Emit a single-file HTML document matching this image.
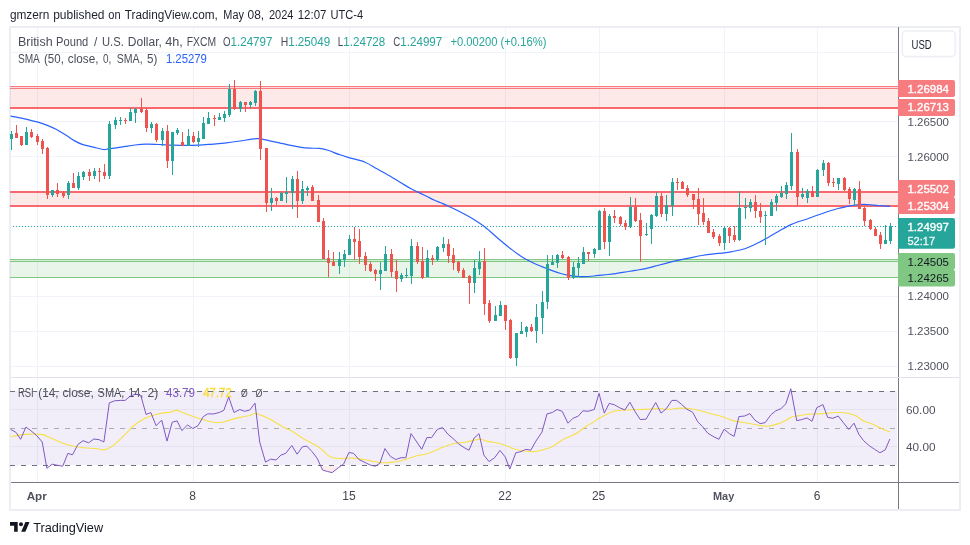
<!DOCTYPE html>
<html><head><meta charset="utf-8"><title>GBPUSD</title>
<style>html,body{margin:0;padding:0;background:#fff}body{width:970px;height:545px;overflow:hidden}svg{display:block}text{font-family:"Liberation Sans",sans-serif}</style>
</head><body>
<svg width="970" height="545" viewBox="0 0 970 545">
<rect x="0" y="0" width="970" height="545" fill="#ffffff"/>
<defs><filter id="noop" filterUnits="userSpaceOnUse" x="0" y="0" width="970" height="545" color-interpolation-filters="sRGB"><feColorMatrix type="matrix" values="1 0 0 0 0 0 1 0 0 0 0 0 1 0 0 0 0 0 1 0"/></filter></defs>
<g filter="url(#noop)">
<rect x="10" y="27" width="950" height="483" fill="none" stroke="#eceef4" stroke-width="2" shape-rendering="crispEdges"/>
<g shape-rendering="crispEdges" fill="#f0f3fa">
<rect x="37" y="28" width="1" height="454"/>
<rect x="193" y="28" width="1" height="454"/>
<rect x="349" y="28" width="1" height="454"/>
<rect x="505" y="28" width="1" height="454"/>
<rect x="599" y="28" width="1" height="454"/>
<rect x="724" y="28" width="1" height="454"/>
<rect x="817" y="28" width="1" height="454"/>
<rect x="11" y="52" width="887" height="1"/>
<rect x="11" y="87" width="887" height="1"/>
<rect x="11" y="121" width="887" height="1"/>
<rect x="11" y="156" width="887" height="1"/>
<rect x="11" y="191" width="887" height="1"/>
<rect x="11" y="226" width="887" height="1"/>
<rect x="11" y="261" width="887" height="1"/>
<rect x="11" y="296" width="887" height="1"/>
<rect x="11" y="331" width="887" height="1"/>
<rect x="11" y="366" width="887" height="1"/>
<rect x="11" y="409" width="887" height="1"/>
<rect x="11" y="446" width="887" height="1"/>
</g>
<g shape-rendering="crispEdges">
<rect x="10" y="89" width="888" height="18" fill="#ef5350" fill-opacity="0.13"/>
<rect x="10" y="87" width="888" height="1" fill="#fbd9dc"/>
<rect x="10" y="86" width="888" height="1" fill="#f77c80"/>
<rect x="10" y="88" width="888" height="1" fill="#f77c80"/>
<rect x="10" y="107" width="888" height="2" fill="#f7696f"/>
<rect x="10" y="193" width="888" height="12" fill="#ef5350" fill-opacity="0.13"/>
<rect x="10" y="191" width="888" height="2" fill="#f7696f"/>
<rect x="10" y="205" width="888" height="2" fill="#f7696f"/>
<rect x="10" y="262" width="888" height="15" fill="#4caf50" fill-opacity="0.126"/>
<rect x="10" y="260" width="888" height="1" fill="#d6edd8"/>
<rect x="10" y="259" width="888" height="1" fill="#81c784"/>
<rect x="10" y="261" width="888" height="1" fill="#81c784"/>
<rect x="10" y="277" width="888" height="1" fill="#81c784"/>
<rect x="11" y="391" width="886" height="74" fill="#7e57c2" fill-opacity="0.1"/>
</g>
<line x1="13" y1="226.5" x2="898" y2="226.5" stroke="#26a69a" stroke-width="1" stroke-dasharray="1 2" shape-rendering="crispEdges"/>
<path d="M10.6,116.1 C12.1,116.4 16.8,117.3 19.8,117.9 C22.9,118.5 25.8,119.2 28.9,119.9 C31.9,120.6 35.0,121.3 38.1,122.2 C41.2,123.1 44.3,124.2 47.3,125.4 C50.3,126.6 53.0,127.7 56.0,129.3 C59.0,130.9 62.2,132.9 65.3,134.8 C68.4,136.7 71.7,139.3 74.6,140.9 C77.5,142.5 79.8,143.6 82.9,144.6 C86.0,145.6 89.7,146.3 93.1,147.1 C96.5,147.9 100.8,149.2 103.3,149.5 C105.8,149.8 105.8,149.2 108.0,148.9 C110.2,148.6 113.4,148.2 116.3,147.8 C119.2,147.4 122.5,146.9 125.6,146.4 C128.7,145.9 131.5,145.4 134.9,145.0 C138.3,144.6 142.2,144.2 146.0,144.1 C149.8,144.0 154.0,144.3 158.0,144.5 C162.0,144.7 165.5,144.9 170.0,145.1 C174.5,145.2 180.3,145.4 185.0,145.4 C189.7,145.4 194.0,145.3 198.3,145.1 C202.6,144.9 206.6,144.6 211.0,144.3 C215.4,144.0 219.7,143.7 224.5,143.1 C229.3,142.5 234.6,141.8 240.0,141.0 C245.4,140.2 253.0,138.9 256.8,138.6 C260.6,138.3 260.4,138.9 262.9,139.3 C265.4,139.8 268.6,140.6 272.0,141.3 C275.4,142.0 279.7,143.0 283.0,143.7 C286.3,144.4 289.0,145.0 292.0,145.6 C295.0,146.2 298.2,147.0 301.2,147.4 C304.2,147.8 306.9,148.0 310.0,148.2 C313.1,148.4 316.5,148.1 319.5,148.4 C322.5,148.8 324.6,149.2 328.0,150.3 C331.4,151.4 336.4,153.6 340.0,154.8 C343.6,156.1 345.7,156.6 349.9,157.8 C354.1,159.0 360.5,160.4 365.0,162.2 C369.5,164.0 372.8,166.5 377.0,168.8 C381.2,171.2 386.5,174.1 390.3,176.3 C394.1,178.5 396.6,180.2 400.0,182.2 C403.4,184.2 407.6,186.9 410.5,188.5 C413.4,190.1 415.1,190.7 417.5,191.9 C419.9,193.1 422.2,194.2 425.0,195.5 C427.8,196.8 431.5,198.8 434.0,200.0 C436.5,201.2 437.6,201.5 440.0,202.5 C442.4,203.5 445.3,204.6 448.3,206.0 C451.3,207.4 454.6,209.1 458.0,210.8 C461.4,212.5 465.2,214.4 468.4,216.2 C471.6,218.0 474.2,219.6 477.0,221.4 C479.8,223.2 482.1,224.7 485.0,227.0 C487.9,229.3 491.4,232.5 494.2,235.0 C497.0,237.5 499.4,239.7 502.0,241.8 C504.6,244.0 507.1,246.0 509.6,247.9 C512.1,249.8 514.5,251.7 517.0,253.5 C519.5,255.3 521.5,256.8 524.5,258.5 C527.5,260.2 531.3,262.0 535.0,263.7 C538.7,265.4 542.6,266.9 546.8,268.5 C551.0,270.1 556.5,272.2 560.0,273.3 C563.5,274.4 565.3,274.7 568.0,275.2 C570.7,275.7 573.3,276.1 576.0,276.4 C578.7,276.6 581.0,276.8 584.0,276.7 C587.0,276.6 590.6,276.3 593.9,276.0 C597.2,275.7 600.7,275.2 604.0,274.9 C607.3,274.5 610.1,274.4 613.7,273.9 C617.3,273.4 621.9,272.6 625.4,272.0 C628.9,271.4 631.6,271.0 635.0,270.4 C638.4,269.8 642.3,269.3 645.6,268.6 C648.9,267.9 651.6,267.1 655.0,266.2 C658.4,265.3 661.6,264.4 665.8,263.3 C670.0,262.2 676.0,260.8 680.0,259.9 C684.0,259.0 686.4,258.5 690.0,257.8 C693.6,257.1 698.1,256.1 701.8,255.5 C705.5,254.9 708.3,254.5 712.0,254.1 C715.7,253.7 720.7,253.2 724.0,252.8 C727.3,252.4 729.3,252.1 732.0,251.6 C734.7,251.1 737.3,250.7 740.0,250.0 C742.7,249.3 744.9,248.8 748.0,247.5 C751.1,246.2 755.1,244.4 758.8,242.5 C762.5,240.6 766.5,238.3 770.0,236.3 C773.5,234.3 776.7,232.4 780.0,230.5 C783.3,228.6 786.8,226.5 789.8,225.1 C792.8,223.7 795.2,222.8 798.0,221.8 C800.8,220.8 803.2,220.3 806.5,219.2 C809.8,218.1 814.0,216.4 818.0,215.0 C822.0,213.6 827.1,211.9 830.4,210.8 C833.7,209.7 835.2,209.2 838.0,208.5 C840.8,207.8 844.2,207.1 847.0,206.5 C849.8,205.9 852.2,205.3 855.0,205.0 C857.8,204.7 861.0,204.4 863.7,204.4 C866.4,204.4 868.6,204.6 871.0,204.8 C873.4,205.0 874.8,205.3 878.0,205.6 C881.2,205.8 888.0,206.2 890.0,206.3" fill="none" stroke="#2962ff" stroke-width="1.2" stroke-linejoin="round"/>
<g shape-rendering="crispEdges">
<rect x="11" y="131" width="1" height="19" fill="#26a69a"/><rect x="10" y="134" width="3" height="5" fill="#26a69a"/>
<rect x="16" y="125" width="1" height="13" fill="#ef5350"/><rect x="15" y="133" width="3" height="5" fill="#ef5350"/>
<rect x="21" y="136" width="1" height="10" fill="#ef5350"/><rect x="20" y="136" width="3" height="9" fill="#ef5350"/>
<rect x="26" y="127" width="1" height="18" fill="#26a69a"/><rect x="25" y="132" width="3" height="13" fill="#26a69a"/>
<rect x="31" y="129" width="1" height="9" fill="#ef5350"/><rect x="30" y="132" width="3" height="5" fill="#ef5350"/>
<rect x="37" y="134" width="1" height="11" fill="#ef5350"/><rect x="36" y="136" width="3" height="6" fill="#ef5350"/>
<rect x="42" y="139" width="1" height="15" fill="#ef5350"/><rect x="41" y="141" width="3" height="8" fill="#ef5350"/>
<rect x="47" y="147" width="1" height="52" fill="#ef5350"/><rect x="46" y="148" width="3" height="47" fill="#ef5350"/>
<rect x="52" y="190" width="1" height="7" fill="#26a69a"/><rect x="51" y="190" width="3" height="5" fill="#26a69a"/>
<rect x="57" y="183" width="1" height="14" fill="#ef5350"/><rect x="56" y="190" width="3" height="4" fill="#ef5350"/>
<rect x="63" y="191" width="1" height="7" fill="#ef5350"/><rect x="62" y="193" width="3" height="3" fill="#ef5350"/>
<rect x="68" y="181" width="1" height="18" fill="#26a69a"/><rect x="67" y="183" width="3" height="12" fill="#26a69a"/>
<rect x="73" y="173" width="1" height="15" fill="#ef5350"/><rect x="72" y="183" width="3" height="5" fill="#ef5350"/>
<rect x="78" y="172" width="1" height="18" fill="#26a69a"/><rect x="77" y="176" width="3" height="12" fill="#26a69a"/>
<rect x="83" y="171" width="1" height="9" fill="#26a69a"/><rect x="82" y="172" width="3" height="5" fill="#26a69a"/>
<rect x="89" y="169" width="1" height="12" fill="#ef5350"/><rect x="88" y="172" width="3" height="4" fill="#ef5350"/>
<rect x="94" y="168" width="1" height="11" fill="#26a69a"/><rect x="93" y="171" width="3" height="5" fill="#26a69a"/>
<rect x="99" y="168" width="1" height="14" fill="#ef5350"/><rect x="98" y="171" width="3" height="1" fill="#ef5350"/>
<rect x="104" y="164" width="1" height="15" fill="#ef5350"/><rect x="103" y="172" width="3" height="4" fill="#ef5350"/>
<rect x="109" y="121" width="1" height="58" fill="#26a69a"/><rect x="108" y="124" width="3" height="52" fill="#26a69a"/>
<rect x="115" y="117" width="1" height="12" fill="#26a69a"/><rect x="114" y="120" width="3" height="5" fill="#26a69a"/>
<rect x="120" y="117" width="1" height="8" fill="#26a69a"/><rect x="119" y="120" width="3" height="1" fill="#26a69a"/>
<rect x="125" y="118" width="1" height="6" fill="#ef5350"/><rect x="124" y="120" width="3" height="1" fill="#ef5350"/>
<rect x="130" y="108" width="1" height="13" fill="#26a69a"/><rect x="129" y="112" width="3" height="9" fill="#26a69a"/>
<rect x="135" y="108" width="1" height="15" fill="#26a69a"/><rect x="134" y="109" width="3" height="4" fill="#26a69a"/>
<rect x="141" y="98" width="1" height="15" fill="#ef5350"/><rect x="140" y="109" width="3" height="3" fill="#ef5350"/>
<rect x="146" y="108" width="1" height="24" fill="#ef5350"/><rect x="145" y="110" width="3" height="18" fill="#ef5350"/>
<rect x="151" y="122" width="1" height="11" fill="#26a69a"/><rect x="150" y="124" width="3" height="4" fill="#26a69a"/>
<rect x="156" y="123" width="1" height="19" fill="#ef5350"/><rect x="155" y="124" width="3" height="16" fill="#ef5350"/>
<rect x="162" y="128" width="1" height="18" fill="#26a69a"/><rect x="161" y="131" width="3" height="9" fill="#26a69a"/>
<rect x="167" y="125" width="1" height="43" fill="#ef5350"/><rect x="166" y="131" width="3" height="30" fill="#ef5350"/>
<rect x="172" y="132" width="1" height="43" fill="#26a69a"/><rect x="171" y="132" width="3" height="29" fill="#26a69a"/>
<rect x="177" y="128" width="1" height="7" fill="#26a69a"/><rect x="176" y="130" width="3" height="3" fill="#26a69a"/>
<rect x="182" y="132" width="1" height="14" fill="#ef5350"/><rect x="181" y="142" width="3" height="4" fill="#ef5350"/>
<rect x="188" y="129" width="1" height="17" fill="#26a69a"/><rect x="187" y="136" width="3" height="10" fill="#26a69a"/>
<rect x="193" y="132" width="1" height="11" fill="#ef5350"/><rect x="192" y="136" width="3" height="6" fill="#ef5350"/>
<rect x="198" y="131" width="1" height="16" fill="#26a69a"/><rect x="197" y="138" width="3" height="4" fill="#26a69a"/>
<rect x="203" y="117" width="1" height="22" fill="#26a69a"/><rect x="202" y="123" width="3" height="16" fill="#26a69a"/>
<rect x="208" y="112" width="1" height="12" fill="#26a69a"/><rect x="207" y="118" width="3" height="6" fill="#26a69a"/>
<rect x="214" y="115" width="1" height="11" fill="#ef5350"/><rect x="213" y="118" width="3" height="1" fill="#ef5350"/>
<rect x="219" y="113" width="1" height="7" fill="#26a69a"/><rect x="218" y="117" width="3" height="3" fill="#26a69a"/>
<rect x="224" y="111" width="1" height="11" fill="#26a69a"/><rect x="223" y="114" width="3" height="4" fill="#26a69a"/>
<rect x="229" y="84" width="1" height="33" fill="#26a69a"/><rect x="228" y="89" width="3" height="26" fill="#26a69a"/>
<rect x="234" y="80" width="1" height="30" fill="#ef5350"/><rect x="233" y="89" width="3" height="20" fill="#ef5350"/>
<rect x="240" y="101" width="1" height="11" fill="#26a69a"/><rect x="239" y="102" width="3" height="7" fill="#26a69a"/>
<rect x="245" y="102" width="1" height="10" fill="#ef5350"/><rect x="244" y="102" width="3" height="3" fill="#ef5350"/>
<rect x="250" y="101" width="1" height="7" fill="#26a69a"/><rect x="249" y="102" width="3" height="3" fill="#26a69a"/>
<rect x="255" y="90" width="1" height="16" fill="#26a69a"/><rect x="254" y="91" width="3" height="12" fill="#26a69a"/>
<rect x="260" y="81" width="1" height="79" fill="#ef5350"/><rect x="259" y="91" width="3" height="58" fill="#ef5350"/>
<rect x="266" y="148" width="1" height="64" fill="#ef5350"/><rect x="265" y="148" width="3" height="55" fill="#ef5350"/>
<rect x="271" y="188" width="1" height="23" fill="#26a69a"/><rect x="270" y="198" width="3" height="5" fill="#26a69a"/>
<rect x="276" y="197" width="1" height="8" fill="#ef5350"/><rect x="275" y="198" width="3" height="3" fill="#ef5350"/>
<rect x="281" y="192" width="1" height="9" fill="#26a69a"/><rect x="280" y="193" width="3" height="8" fill="#26a69a"/>
<rect x="286" y="177" width="1" height="26" fill="#26a69a"/><rect x="285" y="192" width="3" height="2" fill="#26a69a"/>
<rect x="292" y="176" width="1" height="33" fill="#26a69a"/><rect x="291" y="179" width="3" height="14" fill="#26a69a"/>
<rect x="297" y="171" width="1" height="47" fill="#ef5350"/><rect x="296" y="179" width="3" height="22" fill="#ef5350"/>
<rect x="302" y="181" width="1" height="23" fill="#26a69a"/><rect x="301" y="189" width="3" height="12" fill="#26a69a"/>
<rect x="307" y="186" width="1" height="10" fill="#26a69a"/><rect x="306" y="188" width="3" height="2" fill="#26a69a"/>
<rect x="312" y="185" width="1" height="16" fill="#ef5350"/><rect x="311" y="187" width="3" height="14" fill="#ef5350"/>
<rect x="318" y="195" width="1" height="27" fill="#ef5350"/><rect x="317" y="200" width="3" height="22" fill="#ef5350"/>
<rect x="323" y="218" width="1" height="41" fill="#ef5350"/><rect x="322" y="221" width="3" height="38" fill="#ef5350"/>
<rect x="328" y="250" width="1" height="27" fill="#ef5350"/><rect x="327" y="258" width="3" height="5" fill="#ef5350"/>
<rect x="333" y="252" width="1" height="14" fill="#ef5350"/><rect x="332" y="262" width="3" height="4" fill="#ef5350"/>
<rect x="339" y="252" width="1" height="22" fill="#26a69a"/><rect x="338" y="259" width="3" height="7" fill="#26a69a"/>
<rect x="344" y="250" width="1" height="17" fill="#26a69a"/><rect x="343" y="254" width="3" height="6" fill="#26a69a"/>
<rect x="349" y="235" width="1" height="20" fill="#26a69a"/><rect x="348" y="239" width="3" height="16" fill="#26a69a"/>
<rect x="354" y="227" width="1" height="33" fill="#ef5350"/><rect x="353" y="239" width="3" height="3" fill="#ef5350"/>
<rect x="359" y="229" width="1" height="35" fill="#ef5350"/><rect x="358" y="241" width="3" height="16" fill="#ef5350"/>
<rect x="365" y="252" width="1" height="19" fill="#ef5350"/><rect x="364" y="256" width="3" height="9" fill="#ef5350"/>
<rect x="370" y="262" width="1" height="10" fill="#ef5350"/><rect x="369" y="264" width="3" height="7" fill="#ef5350"/>
<rect x="375" y="269" width="1" height="12" fill="#ef5350"/><rect x="374" y="270" width="3" height="4" fill="#ef5350"/>
<rect x="380" y="262" width="1" height="28" fill="#26a69a"/><rect x="379" y="270" width="3" height="4" fill="#26a69a"/>
<rect x="385" y="246" width="1" height="25" fill="#26a69a"/><rect x="384" y="254" width="3" height="17" fill="#26a69a"/>
<rect x="391" y="249" width="1" height="28" fill="#ef5350"/><rect x="390" y="254" width="3" height="18" fill="#ef5350"/>
<rect x="396" y="260" width="1" height="32" fill="#ef5350"/><rect x="395" y="271" width="3" height="8" fill="#ef5350"/>
<rect x="401" y="273" width="1" height="9" fill="#26a69a"/><rect x="400" y="275" width="3" height="4" fill="#26a69a"/>
<rect x="406" y="268" width="1" height="10" fill="#26a69a"/><rect x="405" y="275" width="3" height="1" fill="#26a69a"/>
<rect x="411" y="239" width="1" height="45" fill="#26a69a"/><rect x="410" y="246" width="3" height="30" fill="#26a69a"/>
<rect x="417" y="242" width="1" height="22" fill="#ef5350"/><rect x="416" y="246" width="3" height="16" fill="#ef5350"/>
<rect x="422" y="247" width="1" height="32" fill="#ef5350"/><rect x="421" y="261" width="3" height="17" fill="#ef5350"/>
<rect x="427" y="250" width="1" height="27" fill="#26a69a"/><rect x="426" y="258" width="3" height="19" fill="#26a69a"/>
<rect x="432" y="255" width="1" height="10" fill="#ef5350"/><rect x="431" y="258" width="3" height="2" fill="#ef5350"/>
<rect x="437" y="246" width="1" height="15" fill="#26a69a"/><rect x="436" y="247" width="3" height="13" fill="#26a69a"/>
<rect x="443" y="237" width="1" height="15" fill="#26a69a"/><rect x="442" y="244" width="3" height="4" fill="#26a69a"/>
<rect x="448" y="239" width="1" height="24" fill="#ef5350"/><rect x="447" y="244" width="3" height="12" fill="#ef5350"/>
<rect x="453" y="248" width="1" height="22" fill="#ef5350"/><rect x="452" y="255" width="3" height="8" fill="#ef5350"/>
<rect x="458" y="261" width="1" height="12" fill="#ef5350"/><rect x="457" y="262" width="3" height="9" fill="#ef5350"/>
<rect x="463" y="268" width="1" height="10" fill="#ef5350"/><rect x="462" y="270" width="3" height="8" fill="#ef5350"/>
<rect x="469" y="275" width="1" height="29" fill="#ef5350"/><rect x="468" y="276" width="3" height="7" fill="#ef5350"/>
<rect x="474" y="260" width="1" height="33" fill="#26a69a"/><rect x="473" y="268" width="3" height="15" fill="#26a69a"/>
<rect x="479" y="251" width="1" height="24" fill="#26a69a"/><rect x="478" y="262" width="3" height="7" fill="#26a69a"/>
<rect x="484" y="248" width="1" height="67" fill="#ef5350"/><rect x="483" y="261" width="3" height="43" fill="#ef5350"/>
<rect x="489" y="300" width="1" height="23" fill="#ef5350"/><rect x="488" y="303" width="3" height="18" fill="#ef5350"/>
<rect x="495" y="306" width="1" height="15" fill="#26a69a"/><rect x="494" y="315" width="3" height="6" fill="#26a69a"/>
<rect x="500" y="301" width="1" height="15" fill="#26a69a"/><rect x="499" y="305" width="3" height="11" fill="#26a69a"/>
<rect x="505" y="305" width="1" height="25" fill="#ef5350"/><rect x="504" y="305" width="3" height="16" fill="#ef5350"/>
<rect x="510" y="319" width="1" height="40" fill="#ef5350"/><rect x="509" y="320" width="3" height="38" fill="#ef5350"/>
<rect x="516" y="333" width="1" height="33" fill="#26a69a"/><rect x="515" y="333" width="3" height="25" fill="#26a69a"/>
<rect x="521" y="322" width="1" height="12" fill="#26a69a"/><rect x="520" y="331" width="3" height="3" fill="#26a69a"/>
<rect x="526" y="326" width="1" height="11" fill="#26a69a"/><rect x="525" y="327" width="3" height="5" fill="#26a69a"/>
<rect x="531" y="324" width="1" height="8" fill="#ef5350"/><rect x="530" y="327" width="3" height="4" fill="#ef5350"/>
<rect x="536" y="304" width="1" height="39" fill="#26a69a"/><rect x="535" y="317" width="3" height="14" fill="#26a69a"/>
<rect x="542" y="291" width="1" height="43" fill="#26a69a"/><rect x="541" y="302" width="3" height="16" fill="#26a69a"/>
<rect x="547" y="255" width="1" height="54" fill="#26a69a"/><rect x="546" y="264" width="3" height="38" fill="#26a69a"/>
<rect x="552" y="255" width="1" height="10" fill="#26a69a"/><rect x="551" y="262" width="3" height="3" fill="#26a69a"/>
<rect x="557" y="254" width="1" height="14" fill="#26a69a"/><rect x="556" y="255" width="3" height="8" fill="#26a69a"/>
<rect x="562" y="251" width="1" height="8" fill="#ef5350"/><rect x="561" y="255" width="3" height="3" fill="#ef5350"/>
<rect x="568" y="256" width="1" height="24" fill="#ef5350"/><rect x="567" y="257" width="3" height="21" fill="#ef5350"/>
<rect x="573" y="262" width="1" height="17" fill="#26a69a"/><rect x="572" y="267" width="3" height="11" fill="#26a69a"/>
<rect x="578" y="257" width="1" height="20" fill="#26a69a"/><rect x="577" y="263" width="3" height="5" fill="#26a69a"/>
<rect x="583" y="247" width="1" height="17" fill="#26a69a"/><rect x="582" y="252" width="3" height="12" fill="#26a69a"/>
<rect x="588" y="252" width="1" height="9" fill="#ef5350"/><rect x="587" y="252" width="3" height="2" fill="#ef5350"/>
<rect x="594" y="248" width="1" height="10" fill="#26a69a"/><rect x="593" y="249" width="3" height="5" fill="#26a69a"/>
<rect x="599" y="210" width="1" height="40" fill="#26a69a"/><rect x="598" y="211" width="3" height="39" fill="#26a69a"/>
<rect x="604" y="208" width="1" height="41" fill="#ef5350"/><rect x="603" y="211" width="3" height="31" fill="#ef5350"/>
<rect x="609" y="214" width="1" height="42" fill="#26a69a"/><rect x="608" y="216" width="3" height="26" fill="#26a69a"/>
<rect x="614" y="210" width="1" height="13" fill="#ef5350"/><rect x="613" y="216" width="3" height="2" fill="#ef5350"/>
<rect x="620" y="216" width="1" height="10" fill="#ef5350"/><rect x="619" y="217" width="3" height="7" fill="#ef5350"/>
<rect x="625" y="220" width="1" height="10" fill="#ef5350"/><rect x="624" y="223" width="3" height="4" fill="#ef5350"/>
<rect x="630" y="197" width="1" height="31" fill="#26a69a"/><rect x="629" y="207" width="3" height="20" fill="#26a69a"/>
<rect x="635" y="198" width="1" height="24" fill="#ef5350"/><rect x="634" y="207" width="3" height="14" fill="#ef5350"/>
<rect x="640" y="213" width="1" height="49" fill="#ef5350"/><rect x="639" y="220" width="3" height="16" fill="#ef5350"/>
<rect x="646" y="223" width="1" height="13" fill="#26a69a"/><rect x="645" y="234" width="3" height="1" fill="#26a69a"/>
<rect x="651" y="214" width="1" height="30" fill="#26a69a"/><rect x="650" y="215" width="3" height="14" fill="#26a69a"/>
<rect x="656" y="192" width="1" height="25" fill="#26a69a"/><rect x="655" y="196" width="3" height="20" fill="#26a69a"/>
<rect x="661" y="193" width="1" height="24" fill="#ef5350"/><rect x="660" y="196" width="3" height="18" fill="#ef5350"/>
<rect x="666" y="195" width="1" height="26" fill="#26a69a"/><rect x="665" y="205" width="3" height="9" fill="#26a69a"/>
<rect x="672" y="178" width="1" height="38" fill="#26a69a"/><rect x="671" y="182" width="3" height="24" fill="#26a69a"/>
<rect x="677" y="178" width="1" height="12" fill="#ef5350"/><rect x="676" y="182" width="3" height="1" fill="#ef5350"/>
<rect x="682" y="181" width="1" height="8" fill="#ef5350"/><rect x="681" y="182" width="3" height="7" fill="#ef5350"/>
<rect x="687" y="185" width="1" height="12" fill="#ef5350"/><rect x="686" y="188" width="3" height="7" fill="#ef5350"/>
<rect x="693" y="194" width="1" height="15" fill="#ef5350"/><rect x="692" y="194" width="3" height="6" fill="#ef5350"/>
<rect x="698" y="188" width="1" height="37" fill="#ef5350"/><rect x="697" y="199" width="3" height="15" fill="#ef5350"/>
<rect x="703" y="198" width="1" height="27" fill="#ef5350"/><rect x="702" y="213" width="3" height="9" fill="#ef5350"/>
<rect x="708" y="218" width="1" height="15" fill="#ef5350"/><rect x="707" y="221" width="3" height="12" fill="#ef5350"/>
<rect x="713" y="229" width="1" height="10" fill="#ef5350"/><rect x="712" y="232" width="3" height="5" fill="#ef5350"/>
<rect x="719" y="234" width="1" height="12" fill="#ef5350"/><rect x="718" y="236" width="3" height="7" fill="#ef5350"/>
<rect x="724" y="226" width="1" height="24" fill="#26a69a"/><rect x="723" y="228" width="3" height="15" fill="#26a69a"/>
<rect x="729" y="227" width="1" height="16" fill="#ef5350"/><rect x="728" y="228" width="3" height="8" fill="#ef5350"/>
<rect x="734" y="226" width="1" height="16" fill="#ef5350"/><rect x="733" y="235" width="3" height="5" fill="#ef5350"/>
<rect x="739" y="191" width="1" height="50" fill="#26a69a"/><rect x="738" y="208" width="3" height="32" fill="#26a69a"/>
<rect x="745" y="198" width="1" height="21" fill="#26a69a"/><rect x="744" y="207" width="3" height="1" fill="#26a69a"/>
<rect x="750" y="199" width="1" height="13" fill="#26a69a"/><rect x="749" y="202" width="3" height="6" fill="#26a69a"/>
<rect x="755" y="195" width="1" height="23" fill="#ef5350"/><rect x="754" y="202" width="3" height="9" fill="#ef5350"/>
<rect x="760" y="203" width="1" height="20" fill="#ef5350"/><rect x="759" y="211" width="3" height="6" fill="#ef5350"/>
<rect x="765" y="211" width="1" height="34" fill="#26a69a"/><rect x="764" y="215" width="3" height="1" fill="#26a69a"/>
<rect x="771" y="199" width="1" height="17" fill="#26a69a"/><rect x="770" y="202" width="3" height="14" fill="#26a69a"/>
<rect x="776" y="194" width="1" height="17" fill="#26a69a"/><rect x="775" y="196" width="3" height="7" fill="#26a69a"/>
<rect x="781" y="186" width="1" height="12" fill="#26a69a"/><rect x="780" y="193" width="3" height="4" fill="#26a69a"/>
<rect x="786" y="182" width="1" height="17" fill="#26a69a"/><rect x="785" y="185" width="3" height="9" fill="#26a69a"/>
<rect x="791" y="133" width="1" height="57" fill="#26a69a"/><rect x="790" y="152" width="3" height="34" fill="#26a69a"/>
<rect x="797" y="149" width="1" height="57" fill="#ef5350"/><rect x="796" y="152" width="3" height="45" fill="#ef5350"/>
<rect x="802" y="188" width="1" height="11" fill="#26a69a"/><rect x="801" y="194" width="3" height="3" fill="#26a69a"/>
<rect x="807" y="189" width="1" height="14" fill="#26a69a"/><rect x="806" y="191" width="3" height="7" fill="#26a69a"/>
<rect x="812" y="186" width="1" height="11" fill="#ef5350"/><rect x="811" y="191" width="3" height="6" fill="#ef5350"/>
<rect x="817" y="169" width="1" height="28" fill="#26a69a"/><rect x="816" y="170" width="3" height="27" fill="#26a69a"/>
<rect x="823" y="160" width="1" height="16" fill="#26a69a"/><rect x="822" y="163" width="3" height="7" fill="#26a69a"/>
<rect x="828" y="162" width="1" height="24" fill="#ef5350"/><rect x="827" y="163" width="3" height="20" fill="#ef5350"/>
<rect x="833" y="178" width="1" height="9" fill="#ef5350"/><rect x="832" y="182" width="3" height="1" fill="#ef5350"/>
<rect x="838" y="178" width="1" height="12" fill="#26a69a"/><rect x="837" y="178" width="3" height="6" fill="#26a69a"/>
<rect x="844" y="177" width="1" height="14" fill="#ef5350"/><rect x="843" y="178" width="3" height="12" fill="#ef5350"/>
<rect x="849" y="187" width="1" height="17" fill="#ef5350"/><rect x="848" y="189" width="3" height="10" fill="#ef5350"/>
<rect x="854" y="188" width="1" height="18" fill="#26a69a"/><rect x="853" y="189" width="3" height="11" fill="#26a69a"/>
<rect x="859" y="181" width="1" height="28" fill="#ef5350"/><rect x="858" y="189" width="3" height="20" fill="#ef5350"/>
<rect x="864" y="207" width="1" height="19" fill="#ef5350"/><rect x="863" y="208" width="3" height="13" fill="#ef5350"/>
<rect x="870" y="219" width="1" height="11" fill="#ef5350"/><rect x="869" y="220" width="3" height="9" fill="#ef5350"/>
<rect x="875" y="227" width="1" height="9" fill="#ef5350"/><rect x="874" y="229" width="3" height="7" fill="#ef5350"/>
<rect x="880" y="232" width="1" height="17" fill="#ef5350"/><rect x="879" y="235" width="3" height="9" fill="#ef5350"/>
<rect x="885" y="225" width="1" height="19" fill="#26a69a"/><rect x="884" y="240" width="3" height="4" fill="#26a69a"/>
<rect x="890" y="223" width="1" height="21" fill="#26a69a"/><rect x="889" y="226" width="3" height="15" fill="#26a69a"/>
</g>
<text x="18.0" y="397.2" font-size="12" fill="#4a4d59" textLength="15.7" lengthAdjust="spacingAndGlyphs">RSI</text>
<text x="38.3" y="397.2" font-size="12" fill="#4a4d59" textLength="20.1" lengthAdjust="spacingAndGlyphs">(14,</text>
<text x="62.5" y="397.2" font-size="12" fill="#4a4d59" textLength="31.4" lengthAdjust="spacingAndGlyphs">close,</text>
<text x="97.6" y="397.2" font-size="12" fill="#4a4d59" textLength="26.8" lengthAdjust="spacingAndGlyphs">SMA,</text>
<text x="128.2" y="397.2" font-size="12" fill="#4a4d59" textLength="15.2" lengthAdjust="spacingAndGlyphs">14,</text>
<text x="147.6" y="397.2" font-size="12" fill="#4a4d59" textLength="10.6" lengthAdjust="spacingAndGlyphs">2)</text>
<text x="166" y="397.2" font-size="12" fill="#7e57c2" textLength="29" lengthAdjust="spacingAndGlyphs">43.79</text>
<text x="203.3" y="397.2" font-size="12" fill="#fbdc3a" stroke="#fbdc3a" stroke-width="0.35" textLength="28.4" lengthAdjust="spacingAndGlyphs">47.72</text>
<text x="241" y="397.1" font-size="10.5" fill="#4a4d59" textLength="6.7" lengthAdjust="spacingAndGlyphs">&#216;</text>
<text x="255.6" y="397.1" font-size="10.5" fill="#4a4d59" textLength="6.9" lengthAdjust="spacingAndGlyphs">&#216;</text>
<clipPath id="cpLow"><rect x="11" y="466" width="886" height="16"/></clipPath>
<clipPath id="cpHigh"><rect x="11" y="378" width="886" height="13"/></clipPath>
<path d="M10.6,429.4 L15.9,432.3 L20.6,439.3 L25.9,427.1 L30.8,430.6 L36.9,435.8 L42.2,442.0 L46.9,468.3 L52.2,464.2 L57.4,465.3 L62.7,466.2 L67.9,453.4 L72.5,454.8 L77.8,444.6 L83.0,440.7 L88.6,442.8 L93.9,439.0 L99.1,439.7 L103.9,442.0 L109.3,402.9 L114.6,400.8 L120.2,400.4 L125.1,400.4 L130.3,396.1 L135.6,394.1 L140.8,395.5 L146.1,414.5 L150.8,412.5 L156.1,425.7 L161.7,420.1 L167.0,441.1 L172.2,422.2 L177.1,420.9 L181.9,430.6 L187.5,425.0 L192.8,428.5 L198.0,425.7 L203.3,416.6 L207.7,413.9 L213.8,413.9 L219.1,412.5 L223.8,410.4 L228.7,396.9 L234.0,412.5 L239.8,409.5 L244.5,411.3 L249.7,410.1 L255.0,403.1 L259.7,442.0 L265.5,462.1 L270.8,459.1 L276.0,460.0 L280.9,455.1 L285.7,453.4 L291.8,445.5 L297.1,454.2 L302.3,446.9 L306.7,446.0 L312.0,451.6 L317.2,458.3 L322.5,470.0 L327.5,471.5 L332.1,472.6 L338.8,467.4 L343.7,463.9 L348.9,452.5 L353.7,453.4 L358.9,459.5 L365.1,462.5 L370.3,465.1 L375.2,466.2 L379.9,463.3 L384.9,448.6 L390.5,456.5 L395.7,459.5 L401.0,457.7 L405.9,457.7 L411.0,433.6 L416.8,442.0 L421.7,449.3 L426.9,437.6 L431.6,437.6 L437.3,429.4 L442.7,427.6 L447.8,434.1 L453.0,438.5 L458.5,443.7 L464.1,447.6 L469.0,450.2 L474.1,438.1 L479.0,433.7 L483.9,455.1 L489.0,461.6 L494.7,457.7 L500.0,450.4 L505.2,456.9 L509.8,469.1 L515.8,452.8 L521.0,451.6 L525.9,449.3 L530.8,450.2 L535.9,441.1 L542.0,432.0 L547.0,413.9 L552.2,412.5 L557.1,409.5 L562.2,411.3 L568.0,423.2 L572.9,418.3 L578.2,416.2 L582.9,410.8 L588.1,411.3 L594.3,409.5 L599.0,393.4 L604.3,413.1 L609.2,403.4 L614.4,404.8 L619.7,407.8 L624.9,409.9 L629.9,402.2 L634.9,411.3 L640.2,419.5 L646.0,419.2 L650.9,410.8 L655.7,402.5 L661.0,413.1 L666.3,408.7 L671.9,400.4 L676.6,400.4 L681.5,404.3 L686.8,409.2 L692.6,412.2 L697.8,421.8 L702.6,426.7 L707.8,433.2 L713.1,436.4 L718.9,439.3 L724.1,429.2 L729.4,433.7 L734.1,436.4 L738.9,416.6 L744.6,416.0 L749.9,413.6 L754.8,420.1 L760.1,423.6 L765.1,422.7 L770.9,414.8 L775.8,410.8 L780.9,408.7 L785.8,403.9 L790.8,388.7 L796.7,420.6 L801.5,419.7 L807.0,417.9 L812.0,421.3 L816.7,407.8 L822.9,404.6 L827.7,417.4 L832.9,418.3 L838.2,416.0 L843.1,422.3 L848.7,429.4 L854.0,423.2 L858.9,434.4 L863.6,440.7 L869.4,445.8 L874.6,449.3 L879.9,452.8 L885.2,449.9 L889.9,439.0 L889.9,465 L10.6,465 Z" fill="#fdecee" clip-path="url(#cpLow)"/>
<path d="M10.6,429.4 L15.9,432.3 L20.6,439.3 L25.9,427.1 L30.8,430.6 L36.9,435.8 L42.2,442.0 L46.9,468.3 L52.2,464.2 L57.4,465.3 L62.7,466.2 L67.9,453.4 L72.5,454.8 L77.8,444.6 L83.0,440.7 L88.6,442.8 L93.9,439.0 L99.1,439.7 L103.9,442.0 L109.3,402.9 L114.6,400.8 L120.2,400.4 L125.1,400.4 L130.3,396.1 L135.6,394.1 L140.8,395.5 L146.1,414.5 L150.8,412.5 L156.1,425.7 L161.7,420.1 L167.0,441.1 L172.2,422.2 L177.1,420.9 L181.9,430.6 L187.5,425.0 L192.8,428.5 L198.0,425.7 L203.3,416.6 L207.7,413.9 L213.8,413.9 L219.1,412.5 L223.8,410.4 L228.7,396.9 L234.0,412.5 L239.8,409.5 L244.5,411.3 L249.7,410.1 L255.0,403.1 L259.7,442.0 L265.5,462.1 L270.8,459.1 L276.0,460.0 L280.9,455.1 L285.7,453.4 L291.8,445.5 L297.1,454.2 L302.3,446.9 L306.7,446.0 L312.0,451.6 L317.2,458.3 L322.5,470.0 L327.5,471.5 L332.1,472.6 L338.8,467.4 L343.7,463.9 L348.9,452.5 L353.7,453.4 L358.9,459.5 L365.1,462.5 L370.3,465.1 L375.2,466.2 L379.9,463.3 L384.9,448.6 L390.5,456.5 L395.7,459.5 L401.0,457.7 L405.9,457.7 L411.0,433.6 L416.8,442.0 L421.7,449.3 L426.9,437.6 L431.6,437.6 L437.3,429.4 L442.7,427.6 L447.8,434.1 L453.0,438.5 L458.5,443.7 L464.1,447.6 L469.0,450.2 L474.1,438.1 L479.0,433.7 L483.9,455.1 L489.0,461.6 L494.7,457.7 L500.0,450.4 L505.2,456.9 L509.8,469.1 L515.8,452.8 L521.0,451.6 L525.9,449.3 L530.8,450.2 L535.9,441.1 L542.0,432.0 L547.0,413.9 L552.2,412.5 L557.1,409.5 L562.2,411.3 L568.0,423.2 L572.9,418.3 L578.2,416.2 L582.9,410.8 L588.1,411.3 L594.3,409.5 L599.0,393.4 L604.3,413.1 L609.2,403.4 L614.4,404.8 L619.7,407.8 L624.9,409.9 L629.9,402.2 L634.9,411.3 L640.2,419.5 L646.0,419.2 L650.9,410.8 L655.7,402.5 L661.0,413.1 L666.3,408.7 L671.9,400.4 L676.6,400.4 L681.5,404.3 L686.8,409.2 L692.6,412.2 L697.8,421.8 L702.6,426.7 L707.8,433.2 L713.1,436.4 L718.9,439.3 L724.1,429.2 L729.4,433.7 L734.1,436.4 L738.9,416.6 L744.6,416.0 L749.9,413.6 L754.8,420.1 L760.1,423.6 L765.1,422.7 L770.9,414.8 L775.8,410.8 L780.9,408.7 L785.8,403.9 L790.8,388.7 L796.7,420.6 L801.5,419.7 L807.0,417.9 L812.0,421.3 L816.7,407.8 L822.9,404.6 L827.7,417.4 L832.9,418.3 L838.2,416.0 L843.1,422.3 L848.7,429.4 L854.0,423.2 L858.9,434.4 L863.6,440.7 L869.4,445.8 L874.6,449.3 L879.9,452.8 L885.2,449.9 L889.9,439.0 L889.9,392 L10.6,392 Z" fill="#dff2e3" clip-path="url(#cpHigh)"/>
<g shape-rendering="crispEdges">
<line x1="10" y1="391.5" x2="897" y2="391.5" stroke="#6d707b" stroke-width="1" stroke-dasharray="5 6"/>
<line x1="10" y1="428.5" x2="897" y2="428.5" stroke="#a9acb5" stroke-width="1" stroke-dasharray="5 6"/>
<line x1="10" y1="465.5" x2="897" y2="465.5" stroke="#6d707b" stroke-width="1" stroke-dasharray="5 6"/>
</g>
<path d="M10.6,436.7 C13.1,436.3 20.4,434.8 25.5,434.4 C30.6,434.0 36.9,433.7 41.3,434.4 C45.7,435.1 47.7,436.9 51.8,438.5 C55.9,440.1 60.5,442.6 65.8,444.2 C71.1,445.8 78.4,447.1 83.4,447.8 C88.4,448.5 92.2,448.1 95.6,448.5 C98.9,448.9 101.4,449.9 103.5,449.9 C105.6,449.9 106.4,449.2 108.0,448.5 C109.6,447.8 110.9,447.3 113.2,445.5 C115.5,443.7 119.4,440.0 121.9,437.6 C124.4,435.2 126.0,433.4 128.0,431.3 C130.1,429.2 132.0,427.1 134.2,425.3 C136.4,423.5 138.7,421.9 141.0,420.5 C143.3,419.1 145.9,417.8 148.2,416.9 C150.5,415.9 152.7,415.4 155.0,414.8 C157.3,414.2 159.7,413.5 162.2,413.1 C164.7,412.7 167.5,412.6 170.0,412.2 C172.5,411.8 174.1,410.0 177.0,410.4 C179.9,410.8 183.4,413.0 187.5,414.5 C191.6,416.0 197.1,417.9 201.5,419.2 C205.9,420.5 210.3,421.7 213.8,422.2 C217.3,422.7 220.0,422.5 222.6,422.2 C225.2,421.9 226.7,420.9 229.6,420.1 C232.5,419.3 236.9,418.1 240.1,417.4 C243.3,416.7 246.3,416.3 248.9,415.7 C251.5,415.1 252.7,413.2 255.9,413.6 C259.1,414.0 263.4,416.0 268.1,418.3 C272.8,420.6 279.8,425.2 283.9,427.4 C288.0,429.6 289.5,429.6 292.7,431.5 C295.9,433.4 298.8,435.9 303.2,438.5 C307.6,441.1 314.9,444.4 319.0,447.2 C323.1,450.0 325.4,453.4 327.7,455.1 C330.0,456.9 330.9,457.1 333.0,457.7 C335.1,458.3 337.2,458.5 340.5,458.6 C343.8,458.7 348.1,457.8 352.8,458.1 C357.5,458.4 363.9,459.6 368.6,460.4 C373.3,461.1 376.7,462.3 380.8,462.6 C384.9,462.9 389.0,462.6 393.1,462.1 C397.2,461.6 401.6,460.5 405.4,459.5 C409.2,458.5 412.1,457.0 415.9,456.0 C419.7,455.0 423.7,454.8 428.1,453.4 C432.5,452.0 438.1,449.2 442.2,447.6 C446.3,446.0 448.9,444.6 452.7,443.7 C456.5,442.8 460.5,443.0 464.9,442.3 C469.3,441.6 475.2,439.5 479.0,439.3 C482.8,439.1 483.8,440.6 487.7,441.4 C491.6,442.2 498.1,443.0 502.3,444.2 C506.5,445.4 509.3,447.4 512.8,448.5 C516.3,449.6 519.8,450.2 523.3,450.7 C526.8,451.2 530.6,451.7 533.8,451.6 C537.0,451.5 539.5,450.7 542.6,449.9 C545.7,449.1 549.0,448.3 552.2,446.7 C555.4,445.1 558.8,441.9 561.9,440.2 C565.0,438.4 568.0,437.4 570.6,436.2 C573.2,434.9 575.0,434.4 577.6,432.7 C580.2,431.0 583.8,427.9 586.4,426.2 C589.0,424.5 591.3,423.6 593.4,422.3 C595.5,421.0 596.7,419.6 598.7,418.3 C600.8,417.1 603.2,416.0 605.7,414.8 C608.2,413.6 610.7,412.1 613.6,411.3 C616.5,410.5 619.0,410.4 623.2,410.1 C627.4,409.8 634.3,409.7 639.0,409.5 C643.7,409.3 647.6,409.1 651.2,409.0 C654.8,408.9 657.2,408.7 660.5,408.7 C663.8,408.7 667.8,409.3 671.0,409.2 C674.2,409.1 676.0,408.1 679.8,408.1 C683.6,408.1 689.1,408.4 693.8,409.2 C698.5,410.0 703.1,411.5 707.8,412.7 C712.5,413.9 717.5,415.2 721.9,416.6 C726.3,418.0 729.7,419.8 734.1,420.9 C738.5,422.0 744.0,422.5 748.1,423.2 C752.2,423.9 755.5,424.8 758.7,425.3 C761.9,425.8 764.5,426.4 767.4,426.2 C770.3,426.0 773.3,425.3 776.2,424.4 C779.1,423.5 782.3,422.1 784.9,420.9 C787.5,419.6 789.5,417.8 791.9,416.9 C794.2,416.0 796.4,416.1 799.0,415.7 C801.6,415.3 804.5,414.6 807.7,414.3 C810.9,414.0 814.5,414.1 818.0,413.9 C821.5,413.7 825.2,413.4 828.6,413.1 C832.0,412.8 835.3,412.2 838.2,412.2 C841.1,412.2 843.3,412.6 846.1,413.1 C848.9,413.6 851.9,414.0 854.8,415.3 C857.7,416.6 860.7,419.4 863.6,420.9 C866.5,422.4 869.5,422.9 872.4,424.1 C875.3,425.3 878.2,427.0 881.1,428.3 C884.0,429.6 888.4,431.4 889.9,432.0" fill="none" stroke="#f7e04a" stroke-width="1.1" stroke-linejoin="round"/>
<path d="M10.6,429.4 L15.9,432.3 L20.6,439.3 L25.9,427.1 L30.8,430.6 L36.9,435.8 L42.2,442.0 L46.9,468.3 L52.2,464.2 L57.4,465.3 L62.7,466.2 L67.9,453.4 L72.5,454.8 L77.8,444.6 L83.0,440.7 L88.6,442.8 L93.9,439.0 L99.1,439.7 L103.9,442.0 L109.3,402.9 L114.6,400.8 L120.2,400.4 L125.1,400.4 L130.3,396.1 L135.6,394.1 L140.8,395.5 L146.1,414.5 L150.8,412.5 L156.1,425.7 L161.7,420.1 L167.0,441.1 L172.2,422.2 L177.1,420.9 L181.9,430.6 L187.5,425.0 L192.8,428.5 L198.0,425.7 L203.3,416.6 L207.7,413.9 L213.8,413.9 L219.1,412.5 L223.8,410.4 L228.7,396.9 L234.0,412.5 L239.8,409.5 L244.5,411.3 L249.7,410.1 L255.0,403.1 L259.7,442.0 L265.5,462.1 L270.8,459.1 L276.0,460.0 L280.9,455.1 L285.7,453.4 L291.8,445.5 L297.1,454.2 L302.3,446.9 L306.7,446.0 L312.0,451.6 L317.2,458.3 L322.5,470.0 L327.5,471.5 L332.1,472.6 L338.8,467.4 L343.7,463.9 L348.9,452.5 L353.7,453.4 L358.9,459.5 L365.1,462.5 L370.3,465.1 L375.2,466.2 L379.9,463.3 L384.9,448.6 L390.5,456.5 L395.7,459.5 L401.0,457.7 L405.9,457.7 L411.0,433.6 L416.8,442.0 L421.7,449.3 L426.9,437.6 L431.6,437.6 L437.3,429.4 L442.7,427.6 L447.8,434.1 L453.0,438.5 L458.5,443.7 L464.1,447.6 L469.0,450.2 L474.1,438.1 L479.0,433.7 L483.9,455.1 L489.0,461.6 L494.7,457.7 L500.0,450.4 L505.2,456.9 L509.8,469.1 L515.8,452.8 L521.0,451.6 L525.9,449.3 L530.8,450.2 L535.9,441.1 L542.0,432.0 L547.0,413.9 L552.2,412.5 L557.1,409.5 L562.2,411.3 L568.0,423.2 L572.9,418.3 L578.2,416.2 L582.9,410.8 L588.1,411.3 L594.3,409.5 L599.0,393.4 L604.3,413.1 L609.2,403.4 L614.4,404.8 L619.7,407.8 L624.9,409.9 L629.9,402.2 L634.9,411.3 L640.2,419.5 L646.0,419.2 L650.9,410.8 L655.7,402.5 L661.0,413.1 L666.3,408.7 L671.9,400.4 L676.6,400.4 L681.5,404.3 L686.8,409.2 L692.6,412.2 L697.8,421.8 L702.6,426.7 L707.8,433.2 L713.1,436.4 L718.9,439.3 L724.1,429.2 L729.4,433.7 L734.1,436.4 L738.9,416.6 L744.6,416.0 L749.9,413.6 L754.8,420.1 L760.1,423.6 L765.1,422.7 L770.9,414.8 L775.8,410.8 L780.9,408.7 L785.8,403.9 L790.8,388.7 L796.7,420.6 L801.5,419.7 L807.0,417.9 L812.0,421.3 L816.7,407.8 L822.9,404.6 L827.7,417.4 L832.9,418.3 L838.2,416.0 L843.1,422.3 L848.7,429.4 L854.0,423.2 L858.9,434.4 L863.6,440.7 L869.4,445.8 L874.6,449.3 L879.9,452.8 L885.2,449.9 L889.9,439.0" fill="none" stroke="#7e57c2" stroke-width="1" stroke-linejoin="round"/>
<g shape-rendering="crispEdges">
<rect x="898" y="27" width="1" height="482" fill="#787b86"/>
<rect x="11" y="482" width="948" height="1" fill="#787b86"/>
<rect x="11" y="377" width="948" height="1" fill="#e0e3eb"/>
</g>
<text x="9.9" y="18.8" font-size="12" fill="#1e222d" textLength="39.5" lengthAdjust="spacingAndGlyphs">gmzern</text>
<text x="53.2" y="18.8" font-size="12" fill="#1e222d" textLength="51.3" lengthAdjust="spacingAndGlyphs">published</text>
<text x="108.2" y="18.8" font-size="12" fill="#1e222d" textLength="12.4" lengthAdjust="spacingAndGlyphs">on</text>
<text x="124.8" y="18.8" font-size="12" fill="#1e222d" textLength="93.0" lengthAdjust="spacingAndGlyphs">TradingView.com,</text>
<text x="223.3" y="18.8" font-size="12" fill="#1e222d" textLength="20.6" lengthAdjust="spacingAndGlyphs">May</text>
<text x="247.5" y="18.8" font-size="12" fill="#1e222d" textLength="16.6" lengthAdjust="spacingAndGlyphs">08,</text>
<text x="268.9" y="18.8" font-size="12" fill="#1e222d" textLength="24.6" lengthAdjust="spacingAndGlyphs">2024</text>
<text x="297.7" y="18.8" font-size="12" fill="#1e222d" textLength="28.7" lengthAdjust="spacingAndGlyphs">12:07</text>
<text x="330.5" y="18.8" font-size="12" fill="#1e222d" textLength="32.7" lengthAdjust="spacingAndGlyphs">UTC-4</text>
<text x="17.9" y="45.7" font-size="12" fill="#4a4d59" textLength="34.7" lengthAdjust="spacingAndGlyphs">British</text>
<text x="56.1" y="45.7" font-size="12" fill="#4a4d59" textLength="32.2" lengthAdjust="spacingAndGlyphs">Pound</text>
<text x="102.0" y="45.7" font-size="12" fill="#4a4d59" textLength="21.8" lengthAdjust="spacingAndGlyphs">U.S.</text>
<text x="127.8" y="45.7" font-size="12" fill="#4a4d59" textLength="34.0" lengthAdjust="spacingAndGlyphs">Dollar,</text>
<text x="165.2" y="45.7" font-size="12" fill="#4a4d59" textLength="17.6" lengthAdjust="spacingAndGlyphs">4h,</text>
<text x="186.7" y="45.7" font-size="12" fill="#4a4d59" textLength="29.4" lengthAdjust="spacingAndGlyphs">FXCM</text>
<text x="223" y="45.7" font-size="12" fill="#4a4d59" textLength="7.5" lengthAdjust="spacingAndGlyphs">O</text>
<text x="230.5" y="45.7" font-size="12" fill="#26a69a" textLength="42" lengthAdjust="spacingAndGlyphs">1.24797</text>
<text x="280.7" y="45.7" font-size="12" fill="#4a4d59" textLength="7.5" lengthAdjust="spacingAndGlyphs">H</text>
<text x="288.2" y="45.7" font-size="12" fill="#26a69a" textLength="42" lengthAdjust="spacingAndGlyphs">1.25049</text>
<text x="337.8" y="45.7" font-size="12" fill="#4a4d59" textLength="5.5" lengthAdjust="spacingAndGlyphs">L</text>
<text x="343.3" y="45.7" font-size="12" fill="#26a69a" textLength="42" lengthAdjust="spacingAndGlyphs">1.24728</text>
<text x="393.3" y="45.7" font-size="12" fill="#4a4d59" textLength="7" lengthAdjust="spacingAndGlyphs">C</text>
<text x="400.3" y="45.7" font-size="12" fill="#26a69a" textLength="42" lengthAdjust="spacingAndGlyphs">1.24997</text>
<text x="450.4" y="45.7" font-size="12" fill="#26a69a" textLength="96" lengthAdjust="spacingAndGlyphs">+0.00200 (+0.16%)</text>
<text x="94" y="45.7" font-size="12" fill="#4a4d59">/</text>
<text x="17.9" y="62.8" font-size="12" fill="#4a4d59" textLength="22.0" lengthAdjust="spacingAndGlyphs">SMA</text>
<text x="44.0" y="62.8" font-size="12" fill="#4a4d59" textLength="19.9" lengthAdjust="spacingAndGlyphs">(50,</text>
<text x="67.8" y="62.8" font-size="12" fill="#4a4d59" textLength="30.7" lengthAdjust="spacingAndGlyphs">close,</text>
<text x="102.9" y="62.8" font-size="12" fill="#4a4d59" textLength="8.3" lengthAdjust="spacingAndGlyphs">0,</text>
<text x="116.8" y="62.8" font-size="12" fill="#4a4d59" textLength="25.8" lengthAdjust="spacingAndGlyphs">SMA,</text>
<text x="147.0" y="62.8" font-size="12" fill="#4a4d59" textLength="10.3" lengthAdjust="spacingAndGlyphs">5)</text>
<text x="165.9" y="62.8" font-size="12" fill="#2962ff" textLength="41" lengthAdjust="spacingAndGlyphs">1.25279</text>
<text x="907.5" y="125.95" font-size="11.6" fill="#50535e" textLength="41.5" lengthAdjust="spacingAndGlyphs">1.26500</text>
<text x="907.5" y="160.55" font-size="11.6" fill="#50535e" textLength="41.5" lengthAdjust="spacingAndGlyphs">1.26000</text>
<text x="907.5" y="299.84999999999997" font-size="11.6" fill="#50535e" textLength="41.5" lengthAdjust="spacingAndGlyphs">1.24000</text>
<text x="907.5" y="334.65" font-size="11.6" fill="#50535e" textLength="41.5" lengthAdjust="spacingAndGlyphs">1.23500</text>
<text x="907.5" y="370.04999999999995" font-size="11.6" fill="#50535e" textLength="41.5" lengthAdjust="spacingAndGlyphs">1.23000</text>
<text x="906" y="414.04999999999995" font-size="11.6" fill="#50535e" textLength="29.5" lengthAdjust="spacingAndGlyphs">60.00</text>
<text x="906" y="450.65" font-size="11.6" fill="#50535e" textLength="29.5" lengthAdjust="spacingAndGlyphs">40.00</text>
<path d="M898,80 H953 Q955,80 955,82 V95 Q955,97 953,97 H898 Z" fill="#f77c80"/>
<path d="M898,99 H953 Q955,99 955,101 V114 Q955,116 953,116 H898 Z" fill="#f77c80"/>
<path d="M898,180 H953 Q955,180 955,182 V195 Q955,197 953,197 H898 Z" fill="#f77c80"/>
<path d="M898,197 H953 Q955,197 955,199 V212 Q955,214 953,214 H898 Z" fill="#f77c80"/>
<path d="M898,218 H953 Q955,218 955,220 V246.8 Q955,248.8 953,248.8 H898 Z" fill="#26a69a"/>
<path d="M898,253 H953 Q955,253 955,255 V267.7 Q955,269.7 953,269.7 H898 Z" fill="#81c784"/>
<path d="M898,269.7 H953 Q955,269.7 955,271.7 V284.5 Q955,286.5 953,286.5 H898 Z" fill="#81c784"/>
<rect x="898" y="268" width="55.5" height="4" fill="#81c784"/>
<rect x="898" y="195" width="55.5" height="4" fill="#f77c80"/>
<text x="907.5" y="92.5" font-size="11.7" fill="#ffffff" fill-opacity="1" stroke="#ffffff" stroke-opacity="1" stroke-width="0.35" textLength="41.4" lengthAdjust="spacingAndGlyphs">1.26984</text>
<text x="907.5" y="111.1" font-size="11.7" fill="#ffffff" fill-opacity="1" stroke="#ffffff" stroke-opacity="1" stroke-width="0.35" textLength="41.4" lengthAdjust="spacingAndGlyphs">1.26713</text>
<text x="907.5" y="192.5" font-size="11.7" fill="#ffffff" fill-opacity="1" stroke="#ffffff" stroke-opacity="1" stroke-width="0.35" textLength="41.4" lengthAdjust="spacingAndGlyphs">1.25502</text>
<text x="907.5" y="209.5" font-size="11.7" fill="#ffffff" fill-opacity="1" stroke="#ffffff" stroke-opacity="1" stroke-width="0.35" textLength="41.4" lengthAdjust="spacingAndGlyphs">1.25304</text>
<text x="907.5" y="230.9" font-size="11.7" fill="#ffffff" fill-opacity="1" stroke="#ffffff" stroke-opacity="1" stroke-width="0.35" textLength="41.4" lengthAdjust="spacingAndGlyphs">1.24997</text>
<text x="907.5" y="244.8" font-size="11.7" fill="#ffffff" fill-opacity="0.85" stroke="#ffffff" stroke-opacity="0.85" stroke-width="0.35" textLength="27.5" lengthAdjust="spacingAndGlyphs">52:17</text>
<text x="907.5" y="265.6" font-size="11.7" fill="#131722" textLength="41.4" lengthAdjust="spacingAndGlyphs">1.24505</text>
<text x="907.5" y="281.6" font-size="11.7" fill="#131722" textLength="41.4" lengthAdjust="spacingAndGlyphs">1.24265</text>
<rect x="902.3" y="31" width="53" height="25.6" rx="4" fill="#ffffff" stroke="#eef0f5" stroke-width="1.7"/>
<text x="911.5" y="48.75" font-size="12" fill="#1e222d" textLength="20.2" lengthAdjust="spacingAndGlyphs">USD</text>
<text x="26.7" y="499.7" font-size="11.5" fill="#50535e" textLength="20.1" lengthAdjust="spacingAndGlyphs" font-weight="bold">Apr</text>
<text x="192.5" y="500" font-size="12" fill="#434651" text-anchor="middle">8</text>
<text x="349" y="500" font-size="12" fill="#434651" text-anchor="middle">15</text>
<text x="505" y="500" font-size="12" fill="#434651" text-anchor="middle">22</text>
<text x="598.6" y="500" font-size="12" fill="#434651" text-anchor="middle">25</text>
<text x="713" y="499.7" font-size="11.5" fill="#50535e" textLength="21.3" lengthAdjust="spacingAndGlyphs" font-weight="bold">May</text>
<text x="817" y="500" font-size="12" fill="#434651" text-anchor="middle">6</text>
<g fill="#131722">
<path d="M10,522.1 H17.7 V531.7 H14.1 V525.8 H10 Z"/>
<circle cx="21" cy="524.2" r="2"/>
<path d="M25.4,522.1 H29.5 L25.4,531.7 H21.2 Z"/>
</g>
<text x="33.2" y="531.6" font-size="12.6" fill="#131722" textLength="69.9" lengthAdjust="spacingAndGlyphs">TradingView</text>
</g>
</svg>
</body></html>
